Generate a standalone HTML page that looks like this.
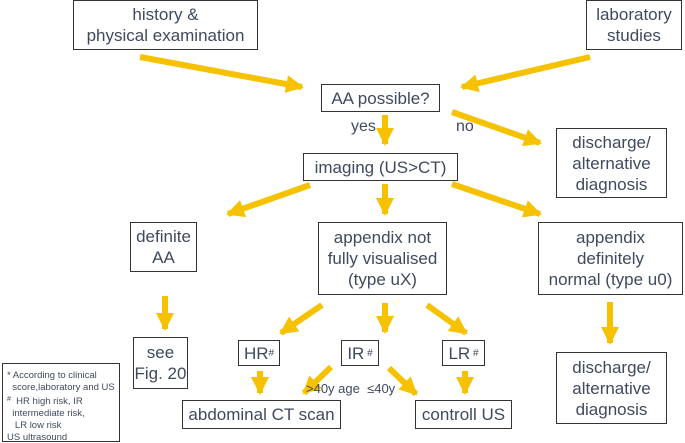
<!DOCTYPE html>
<html><head><meta charset="utf-8"><style>
body{margin:0;background:#fff;}
.b{position:absolute;border:1.5px solid #333;box-sizing:border-box;display:flex;align-items:center;justify-content:center;text-align:center;font-family:"Liberation Sans",sans-serif;color:#3f4a5e;font-size:17px;line-height:21px;background:#fff;}
.t{position:absolute;font-family:"Liberation Sans",sans-serif;color:#3f4a5e;}
sup{font-size:10px;vertical-align:7px;}
</style></head><body>
<div style="position:relative;width:685px;height:443px;overflow:hidden">
<svg width="685" height="443" style="position:absolute;left:0;top:0">
<defs><marker id="a" markerUnits="userSpaceOnUse" markerWidth="20" markerHeight="20" refX="16" refY="10" orient="auto"><path d="M0,1 L18,10 L0,19 Z" fill="#f6c200"/></marker></defs>
<g stroke="#f6c200" stroke-width="6" marker-end="url(#a)">
<line x1="140" y1="57" x2="302" y2="87"/>
<line x1="590" y1="57" x2="462" y2="87"/>
<line x1="385" y1="115" x2="385" y2="144"/>
<line x1="452" y1="112" x2="540" y2="143"/>
<line x1="310" y1="185" x2="228" y2="214"/>
<line x1="385" y1="184" x2="385" y2="214"/>
<line x1="452" y1="184" x2="540" y2="214"/>
<line x1="165" y1="296" x2="165" y2="329"/>
<line x1="322" y1="305" x2="281" y2="333"/>
<line x1="385" y1="303" x2="385" y2="332"/>
<line x1="427" y1="305" x2="466" y2="333"/>
<line x1="610" y1="302" x2="610" y2="343"/>
<line x1="260" y1="371" x2="260" y2="393"/>
<line x1="331" y1="367" x2="304" y2="393"/>
<line x1="389" y1="368" x2="416" y2="394"/>
<line x1="465" y1="371" x2="465" y2="393"/>
</g></svg>
<div class="b" style="left:73px;top:0;width:185px;height:50px">history &amp;<br>physical examination</div>
<div class="b" style="left:586px;top:0;width:96px;height:50px">laboratory<br>studies</div>
<div class="b" style="left:321px;top:84px;width:119px;height:28px">AA possible?</div>
<div class="t" style="left:351px;top:118px;font-size:16px">yes</div>
<div class="t" style="left:456px;top:118px;font-size:16px">no</div>
<div class="b" style="left:556px;top:128px;width:111px;height:70px">discharge/<br>alternative<br>diagnosis</div>
<div class="b" style="left:303px;top:153px;width:155px;height:28px">imaging (US&gt;CT)</div>
<div class="b" style="left:130px;top:222px;width:67px;height:50px">definite<br>AA</div>
<div class="b" style="left:318px;top:222px;width:129px;height:73px">appendix not<br>fully visualised<br>(type uX)</div>
<div class="b" style="left:538px;top:222px;width:145px;height:73px">appendix<br>definitely<br>normal (type u0)</div>
<div class="b" style="left:133px;top:337px;width:55px;height:52px">see<br>Fig. 20</div>
<div class="b" style="left:238px;top:340px;width:42px;height:26px">HR<sup>#</sup></div>
<div class="b" style="left:341px;top:340px;width:38px;height:26px">IR<sup>&nbsp;#</sup></div>
<div class="b" style="left:442px;top:340px;width:43px;height:26px">LR<sup>&nbsp;#</sup></div>
<div class="t" style="left:306px;top:381px;font-size:13px">&gt;40y age&nbsp;&nbsp;≤40y</div>
<div class="b" style="left:556px;top:352px;width:111px;height:72px">discharge/<br>alternative<br>diagnosis</div>
<div class="b" style="left:182px;top:400px;width:159px;height:29px">abdominal CT scan</div>
<div class="b" style="left:415px;top:400px;width:97px;height:29px">controll US</div>
<div class="b" style="left:2px;top:363px;width:118px;height:79px;font-size:9.5px;line-height:12px;display:block;text-align:left;padding:6px 0 0 4px;border-width:1px">* According to clinical<br>&nbsp;&nbsp;score,laboratory and US<br><sup style="font-size:7px;vertical-align:3px">#</sup>&nbsp; HR high risk, IR<br>&nbsp;&nbsp;intermediate risk,<br>&nbsp;&nbsp;&nbsp;LR low risk<br>US ultrasound</div>
</div>
</body></html>
